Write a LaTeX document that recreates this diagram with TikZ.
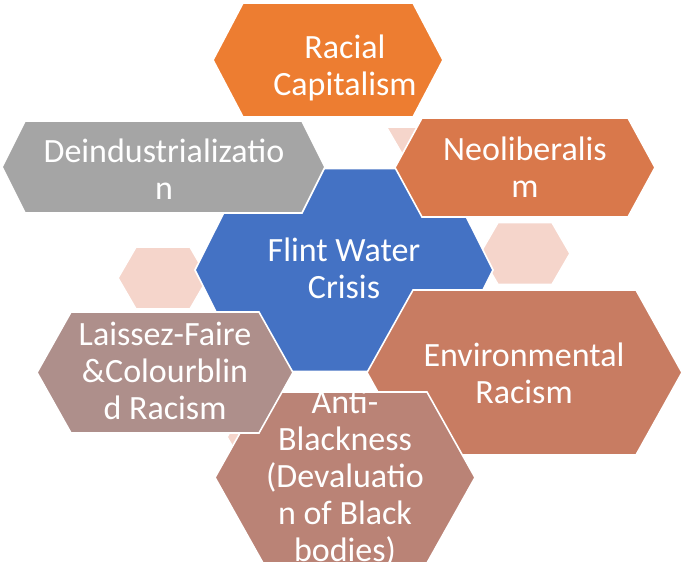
\documentclass[tikz,border=0pt]{standalone}
\usepackage{fontspec}
\setmainfont{Carlito}
\definecolor{cRacial}{HTML}{ED7D31}
\definecolor{cGray}{HTML}{A5A5A5}
\definecolor{cBlue}{HTML}{4472C4}
\definecolor{cNeo}{HTML}{D9784B}
\definecolor{cEnv}{HTML}{C87C62}
\definecolor{cLaissez}{HTML}{AE8F8B}
\definecolor{cAnti}{HTML}{BA8376}
\definecolor{cPale}{HTML}{F5D5CB}
% hexagon: fill colour, centre x, centre y, half width, half height, slant offset
\newcommand{\hexshape}[6]{%
  \filldraw[hexline, fill=#1]
    (#2-#4,#3) -- (#2-#4+#6,#3-#5) -- (#2+#4-#6,#3-#5) -- (#2+#4,#3)
    -- (#2+#4-#6,#3+#5) -- (#2-#4+#6,#3+#5) -- cycle;}
\begin{document}
\begin{tikzpicture}[x=1pt,y=-1pt,
  hexline/.style={draw=white, line width=1.6pt, line join=miter},
  hextext/.style={text=white, align=center, inner sep=0pt,
    font=\fontsize{34}{37}\selectfont}]
\clip (0,0) rectangle (685,566);
\fill[white] (0,0) rectangle (685,566);
% pale accent hexagons
\hexshape{cPale}{525}{253.5}{45}{31}{18}
\hexshape{cPale}{163}{278}{45}{31}{18}
\begin{scope}
  \clip (0,128) rectangle (685,566);
  \hexshape{cPale}{432}{128}{45}{31}{18}
\end{scope}
\hexshape{cPale}{272}{437}{45}{31}{18}
% centre
\hexshape{cBlue}{344}{270}{149}{101.5}{51}
% outer hexagons
\hexshape{cRacial}{328}{60}{115}{57}{30}
\hexshape{cGray}{163.5}{167}{161.5}{46}{23}
\hexshape{cNeo}{525}{167.5}{130}{49.5}{27}
\hexshape{cEnv}{524.5}{372.5}{157.5}{82.5}{46}
\hexshape{cAnti}{345}{477.5}{130}{85.5}{48}
\hexshape{cLaissez}{165}{372.5}{128}{60.5}{34}
% texts
\node[hextext] (flint) at (344,268) {Flint Water\\Crisis};
\node[hextext] (racial) at (345,68) {Racial\\Capitalism};
\node[hextext] (deind) at (164,169) {Deindustrializatio\\n};
\node[hextext] (neo) at (525,167) {Neoliberalis\\m};
\node[hextext] (env) at (524,373) {Environmental\\Racism};
\node[hextext] (laissez) at (165,370.5) {Laissez-Faire\\\&Colourblin\\d Racism};
\node[hextext] (anti) at (345,478) {Anti-\\Blackness\\(Devaluatio\\n of Black\\bodies)};
\end{tikzpicture}
\end{document}
